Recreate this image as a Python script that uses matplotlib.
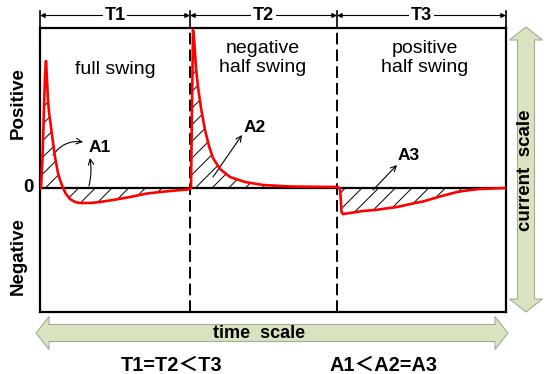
import matplotlib.pyplot as plt
from matplotlib.patches import Polygon

plt.rcParams['font.family'] = ['Liberation Sans', 'Noto Sans CJK SC', 'DejaVu Sans']
plt.rcParams['hatch.linewidth'] = 0.7

# schematic current curves, time / current
t1 = [1, 2.5, 4, 5, 6, 7, 8, 9, 10.5, 12, 15, 18, 20, 23, 26, 30, 35, 40, 50, 60, 73, 90, 107, 125, 147, 150]
i1 = [0, 30, 80, 112, 127, 108, 88, 76, 65, 53, 31, 15, 8, 0, -6, -11, -14, -15, -15, -14, -12, -9, -5.5, -3.5, -1.5, -1]
t2 = [150, 151, 152, 153, 154, 156, 158, 161, 165, 169, 173, 180, 190, 205, 223, 250, 297]
i2 = [-1, 0, 80, 158, 150, 120, 101, 80, 58, 42, 30, 19, 11, 6, 3, 1.5, 1]
t3 = [297, 300, 301, 301.5, 303, 310, 323, 335, 357, 375, 383, 400, 417, 430, 440, 466]
i3 = [1, 0, -15, -24, -26, -25, -23, -22, -19, -15, -13.5, -8.5, -4, -2, -1, 0]

bounds = [0, 150, 297, 466]
periods = ['T1', 'T2', 'T3']
swing_labels = ['full swing', 'negative\nhalf swing', 'positive\nhalf swing']

fig = plt.figure(figsize=(5.5, 3.74), dpi=100)
ax = fig.add_axes([40/550, 62/374, 466/550, 284/374])
ax.set_xlim(0, 466)
ax.set_ylim(-124, 160)
ax.set_xticks([])
ax.set_yticks([])
for s in ax.spines.values():
    s.set_linewidth(1.6)

# hatched areas
for t, i in [(t1, i1), (t2, i2), (t3, i3)]:
    ax.fill_between(t, i, 0, facecolor='none', edgecolor='black', hatch='//', linewidth=0)

ax.axhline(0, color='black', lw=1.6)
for b in bounds[1:3]:
    ax.plot([b, b], [-124, 160], color='black', lw=1.4, ls=(0, (6, 2.6)))

ax.plot(t1 + t2 + t3, i1 + i2 + i3, color='#ff0000', lw=1.9, zorder=5)

# top period arrows
for k in range(3):
    a, b = bounds[k], bounds[k+1]
    ax.annotate('', xy=(a, 172.5), xytext=(b, 172.5), annotation_clip=False,
                arrowprops=dict(arrowstyle='<|-|>', color='black', lw=0.8, mutation_scale=7,
                                shrinkA=0, shrinkB=0))
    ax.text((a+b)/2, 172.5, periods[k], ha='center', va='center', fontsize=13, fontweight='bold',
            bbox=dict(facecolor='white', edgecolor='none', pad=1))
for b in bounds:
    ax.plot([b, b], [160, 177], color='black', lw=1.2, clip_on=False)

# swing labels
ax.text(75, 119, swing_labels[0], ha='center', va='center', fontsize=14)
ax.text(223, 130, swing_labels[1], ha='center', va='center', fontsize=14, linespacing=1.1)
ax.text(385, 130, swing_labels[2], ha='center', va='center', fontsize=14, linespacing=1.1)

# area labels and pointers
ax.text(60, 41, 'A1', ha='center', va='center', fontsize=12.5, fontweight='bold')
ax.text(215, 60, 'A2', ha='center', va='center', fontsize=12.5, fontweight='bold')
ax.text(369, 32, 'A3', ha='center', va='center', fontsize=12.5, fontweight='bold')
arw = dict(arrowstyle='->', color='black', lw=0.8, shrinkA=0, shrinkB=0)
ax.annotate('', xy=(43, 46), xytext=(13, 33), arrowprops=dict(arw, connectionstyle='arc3,rad=-0.3'))
ax.annotate('', xy=(50, 30), xytext=(49, 2), arrowprops=dict(arw, connectionstyle='arc3,rad=0.1'))
ax.annotate('', xy=(202, 53), xytext=(173, 11), arrowprops=arw)
ax.annotate('', xy=(357, 23), xytext=(333, -2), arrowprops=arw)

# y labels
ax.text(-22, 85, 'Positive', rotation=90, ha='center', va='center', fontsize=13.5, fontweight='bold')
ax.text(-22, -68, 'Negative', rotation=90, ha='center', va='center', fontsize=13.5, fontweight='bold')
ax.text(-12, 0, '0', ha='center', va='center', fontsize=13.5, fontweight='bold')

# fat double arrows
def double_arrow(x0, x1, y, half, head_half, head_len, vertical=False):
    pts = [(x0, y), (x0+head_len, y+head_half), (x0+head_len, y+half), (x1-head_len, y+half),
           (x1-head_len, y+head_half), (x1, y), (x1-head_len, y-head_half), (x1-head_len, y-half),
           (x0+head_len, y-half), (x0+head_len, y-head_half)]
    if vertical:
        pts = [(q, p) for p, q in pts]
    ax.add_patch(Polygon(pts, closed=True, facecolor='#d8e4c0', edgecolor='#a3ad94', lw=0.8,
                         clip_on=False))

double_arrow(-4, 468, -145, 8.5, 16.5, 13)
double_arrow(-124, 161, 486, 8.5, 16.5, 13, vertical=True)
ax.text(219, -145, 'time  scale', ha='center', va='center', fontsize=13, fontweight='bold')
ax.text(486, 18, 'current  scale', rotation=90, ha='center', va='center', fontsize=13.5,
        fontweight='bold')

ax.text(132, -177, 'T1=T2＜T3', ha='center', va='center', fontsize=14.3, fontweight='bold')
ax.text(344, -177, 'A1＜A2=A3', ha='center', va='center', fontsize=14.3, fontweight='bold')

fig.savefig('out.png', dpi=100)
